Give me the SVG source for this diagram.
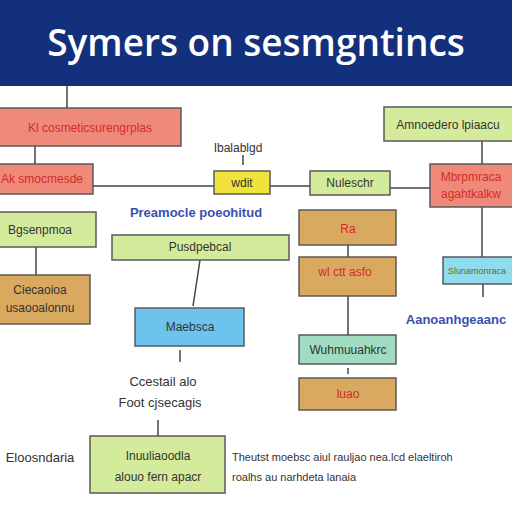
<svg xmlns="http://www.w3.org/2000/svg" width="512" height="512" viewBox="0 0 512 512">
<style>
.box{stroke:#5a5a5a;stroke-width:1.5}
.red{fill:#ef8a7a}
.grn{fill:#d4eb9c}
.tan{fill:#d9a95f}
.t{font-family:"Liberation Sans",Arial,sans-serif;font-size:12px;text-anchor:middle;fill:#333}
.ts{font-family:"Liberation Sans",Arial,sans-serif;font-size:11px;text-anchor:start;fill:#333}
.tr{fill:#d42a2a}
.lbl{font-family:"Liberation Sans",Arial,sans-serif;font-size:13px;font-weight:bold;fill:#3c4fb0;text-anchor:middle}
.c{stroke:#444;stroke-width:1.5;fill:none}
</style>
<rect x="0" y="0" width="512" height="86" fill="#13307c"/>
<text x="256" y="56" font-family="'Open Sans','Liberation Sans',sans-serif" font-size="37" fill="#fff" text-anchor="middle" font-weight="600">Symers on sesmgntincs</text>
<g id="connectors">
<path class="c" d="M67 86V108"/>
<path class="c" d="M35 146V164"/>
<path class="c" d="M93 186H214"/>
<path class="c" d="M243 155V165"/>
<path class="c" d="M270 186H310"/>
<path class="c" d="M390 188H430"/>
<path class="c" d="M482 141V164"/>
<path class="c" d="M482 207V257"/>
<path class="c" d="M483 284V297"/>
<path class="c" d="M36 247V275"/>
<path class="c" d="M200 260L193 306"/>
<path class="c" d="M180 350V362"/>
<path class="c" d="M158 420V436"/>
<path class="c" d="M348 245V257"/>
<path class="c" d="M348 296V335" stroke-width="3"/>
<path class="c" d="M348 368V374"/>
</g>
<g id="n1"><rect class="box red" x="-2" y="108" width="183" height="38"/><text class="t tr" x="90" y="132">Kl cosmeticsurengrplas</text></g>
<g id="n2"><rect class="box red" x="-2" y="164" width="95" height="30"/><text class="t tr" x="42" y="183">Ak smocmesde</text></g>
<g id="n3"><text class="t" x="238" y="152">Ibalablgd</text><rect class="box" fill="#f2e33c" x="214" y="171" width="56" height="23"/><text class="t" x="242" y="187">wdit</text></g>
<g id="n4"><rect class="box grn" x="310" y="171" width="80" height="24"/><text class="t" x="350" y="187">Nuleschr</text></g>
<g id="n5"><rect class="box red" x="430" y="164" width="84" height="43"/><text class="t tr" x="471" y="181">Mbrpmraca</text><text class="t tr" x="471" y="198">agahtkalkw</text></g>
<g id="n6"><rect class="box grn" x="384" y="107" width="130" height="34"/><text class="t" x="448" y="129">Amnoedero lpiaacu</text></g>
<g id="l1"><text class="lbl" x="196" y="217">Preamocle poeohitud</text></g>
<g id="n7"><rect class="box grn" x="-2" y="212" width="98" height="35"/><text class="t" x="40" y="234">Bgsenpmoa</text></g>
<g id="n8"><rect class="box tan" x="-2" y="275" width="92" height="49"/><text class="t" x="40" y="294">Ciecaoioa</text><text class="t" x="40" y="312">usaooalonnu</text></g>
<g id="n9"><rect class="box grn" x="112" y="235" width="177" height="25"/><text class="t" x="200" y="251">Pusdpebcal</text></g>
<g id="n10"><rect class="box" fill="#6cc4ee" x="135" y="308" width="109" height="38"/><text class="t" x="190" y="331">Maebsca</text></g>
<g id="l2"><text class="t" x="163" y="386" style="font-size:13px">Ccestail alo</text><text class="t" x="160" y="407" style="font-size:13px">Foot cjsecagis</text></g>
<g id="n11"><rect class="box grn" x="90" y="436" width="135" height="57"/><text class="t" x="158" y="460">Inuuliaoodla</text><text class="t" x="158" y="481">alouo fern apacr</text></g>
<g id="l3"><text class="t" x="40" y="462" style="font-size:13px">Eloosndaria</text></g>
<g id="l4"><text class="ts" x="232" y="461">Theutst moebsc aiul rauljao nea.lcd elaeltiroh</text><text class="ts" x="232" y="481">roalhs au narhdeta lanaia</text></g>
<g id="n12"><rect class="box tan" x="299" y="210" width="97" height="35"/><text class="t tr" x="348" y="233">Ra</text></g>
<g id="n13"><rect class="box tan" x="299" y="257" width="97" height="39"/><text class="t tr" x="345" y="276">wl ctt asfo</text></g>
<g id="n14"><rect class="box" fill="#9fdcc1" x="299" y="335" width="97" height="29"/><text class="t" x="348" y="354">Wuhmuuahkrc</text></g>
<g id="n15"><rect class="box tan" x="299" y="378" width="97" height="32"/><text class="t tr" x="348" y="398">luao</text></g>
<g id="n16"><rect class="box" fill="#8fdcee" x="443" y="257" width="71" height="27"/><text class="t" x="477" y="274" style="font-size:9px;fill:#6a6a20">Slunamonraca</text></g>
<g id="l5"><text class="lbl" x="456" y="324">Aanoanhgeaanc</text></g>
</svg>
